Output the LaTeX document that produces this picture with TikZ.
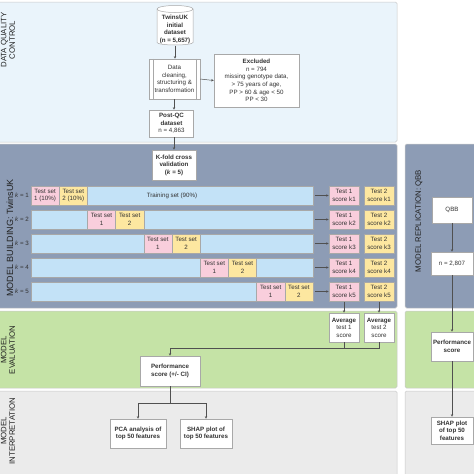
\documentclass[tikz,border=0pt]{standalone}
\usepackage{fontspec}
\setmainfont{Liberation Sans}
\usetikzlibrary{arrows.meta}
\definecolor{dqcfill}{HTML}{EAF4FB}
\definecolor{mbfill}{HTML}{8D9CB5}
\definecolor{evalfill}{HTML}{C5E3A6}
\definecolor{interpfill}{HTML}{EBEBEB}
\definecolor{barblue}{HTML}{C3E2F7}
\definecolor{pinkc}{HTML}{F9CEDC}
\definecolor{yellowc}{HTML}{FDE7A0}
\definecolor{boxline}{HTML}{A8A8A8}
\definecolor{lineclr}{HTML}{505050}
\definecolor{labelclr}{HTML}{333333}
\definecolor{panellab}{HTML}{222222}
\definecolor{panelline}{HTML}{C8C8C8}
\newcommand\boxfont{\fontsize{6.2}{7.6}\selectfont}
\newcommand\labfont{\fontsize{7.8}{8.4}\selectfont}
\tikzset{
  box/.style={draw=boxline, fill=white, line width=0.5pt, inner sep=0pt, align=center, font=\boxfont, text=labelclr},
  pinkbox/.style={box, fill=pinkc},
  yellowbox/.style={box, fill=yellowc},
  arr/.style={draw=lineclr, line width=0.5pt, -{Stealth[length=2.6pt,width=2.4pt]}},
  ln/.style={draw=lineclr, line width=0.5pt},
  panel/.style={draw=panelline, line width=0.5pt, rounded corners=1.5pt},
  bar/.style={draw=boxline, fill=barblue, line width=0.5pt, inner sep=0pt, minimum height=19pt, minimum width=282pt, align=center, font=\boxfont, text=labelclr},
  seg/.style={minimum width=28.2pt, minimum height=19pt},
  plabel/.style={rotate=90, font=\labfont, text=panellab, align=center, inner sep=0pt},
  klabel/.style={font=\boxfont, text=labelclr, inner sep=0pt}
}
\begin{document}
\begin{tikzpicture}[x=1pt,y=-1pt]
\useasboundingbox (0,0) rectangle (474,474);
% panels
\path[panel, fill=dqcfill] (-2,2) rectangle (397,142);
\path[panel, fill=mbfill] (-2,144) rectangle (397,308);
\path[panel, fill=mbfill] (405,144) rectangle (480,308);
\path[panel, fill=evalfill] (-2,311) rectangle (397,388);
\path[panel, fill=evalfill] (405,311) rectangle (480,388);
\path[panel, fill=interpfill] (-2,391) rectangle (397,478);
\path[panel, fill=interpfill] (405,391) rectangle (480,478);
% panel labels
\node[plabel] (lbdqc) at (8,40) {DATA QUALITY\\CONTROL};
\node[plabel, font=\fontsize{9}{10}\selectfont] (lbmb) at (10,238) {MODEL BUILDING: TwinsUK};
\node[plabel] (lbrep) at (419,221) {MODEL REPLICATION: QBB};
\node[plabel] (lbev) at (8,350) {MODEL\\EVALUATION};
\node[plabel] (lbin) at (8,431) {MODEL\\INTERPRETATION};
% TwinsUK cylinder
\draw[draw=boxline, fill=white, line width=0.5pt] (157,9) -- (157,42.5)
  arc[start angle=180, end angle=0, x radius=18, y radius=2.5] -- (193,9)
  arc[start angle=0, end angle=-180, x radius=18, y radius=3.5] -- cycle;
\draw[draw=boxline, line width=0.5pt] (157,9) arc[start angle=180, end angle=0, x radius=18, y radius=3.5];
\node[inner sep=0pt, align=center, font=\boxfont\bfseries, text=labelclr] (twins) at (175,29.5) {TwinsUK\\initial\\dataset\\(n = 5,657)};
\coordinate (twinsbot) at (175,45.5);
% data quality nodes
\node[box, minimum width=51pt, minimum height=40pt] (clean) at (174.5,79) {Data\\cleaning,\\structuring \&\\transformation};
\draw[draw=boxline, line width=0.5pt] ([xshift=4pt]clean.north west) -- ([xshift=4pt]clean.south west);
\draw[draw=boxline, line width=0.5pt] ([xshift=-4pt]clean.north east) -- ([xshift=-4pt]clean.south east);
\node[box, minimum width=85pt, minimum height=53pt] (excl) at (256.5,80.5) {{\bfseries Excluded}\\n = 794\\missing genotype data,\\> 75 years of age,\\PP > 60 \& age < 50\\PP < 30};
\node[box, minimum width=44pt, minimum height=27pt] (postqc) at (171.5,123.5) {{\bfseries Post-QC}\\{\bfseries dataset}\\n = 4,863};
\node[box, minimum width=44pt, minimum height=30pt, font=\boxfont\bfseries] (kfold) at (174,165) {K-fold cross\\validation\\(\textit{k} = 5)};
\draw[arr] (twinsbot) -- (clean.north -| twinsbot);
\draw[arr] (clean.east) -- (excl.west);
\draw[arr] (clean.south -| 174,0) -- (postqc.north -| 174,0);
\draw[arr] (postqc.south -| 174,0) -- (kfold.north);
% bars
\foreach \i in {1,...,5}{
  \pgfmathsetmacro{\yy}{195.5+24*(\i-1)}
  \pgfmathsetmacro{\xp}{45.1+56.4*(\i-1)}
  \pgfmathsetmacro{\xq}{73.3+56.4*(\i-1)}
  \node[klabel] (k\i) at (22,\yy) {\textit{k} = \i};
  \node[bar] (bar\i) at (172,\yy) {};
  \node[pinkbox, seg] (pa\i) at (\xp,\yy) {\ifnum\i=1 Test set\\1 (10\%)\else Test set\\1\fi};
  \node[yellowbox, seg] (pb\i) at (\xq,\yy) {\ifnum\i=1 Test set\\2 (10\%)\else Test set\\2\fi};
  \node[pinkbox, minimum width=30pt, minimum height=19.5pt] (sa\i) at (344,\yy) {Test 1\\score k\i};
  \node[yellowbox, minimum width=30pt, minimum height=19.5pt] (sb\i) at (379,\yy) {Test 2\\score k\i};
  \draw[arr] ([xshift=1.5pt]bar\i.east) -- (sa\i.west);
}
\node[font=\boxfont, text=labelclr, inner sep=0pt] (train) at (172,195.5) {Training set (90\%)};
% evaluation
\node[box, minimum width=30pt, minimum height=29pt] (avga) at (344,327.5) {{\bfseries Average}\\test 1\\score};
\node[box, minimum width=30pt, minimum height=29pt] (avgb) at (379,327.5) {{\bfseries Average}\\test 2\\score};
\draw[arr] (sa5.south) -- (avga.north);
\draw[arr] (sb5.south) -- (avgb.north);
\node[box, minimum width=60pt, minimum height=30pt, font=\boxfont\bfseries] (perf) at (170,371) {Performance\\score (+/- CI)};
\coordinate (merge) at (170,348);
\draw[ln] (avgb.south) -- (avgb.south |- merge) -- (merge);
\draw[ln] (avga.south) -- (avga.south |- merge);
\draw[arr] (merge) -- (perf.north);
% interpretation
\node[box, minimum width=56pt, minimum height=29pt, font=\boxfont\bfseries] (pca) at (138,433.5) {PCA analysis of\\top 50 features};
\node[box, minimum width=52pt, minimum height=29pt, font=\boxfont\bfseries] (shap) at (206,433.5) {SHAP plot of\\top 50 features};
\coordinate (split) at (170,403);
\draw[ln] (perf.south) -- (split);
\draw[arr] (split) -| (pca.north);
\draw[arr] (split) -| (shap.north);
% replication column
\node[box, minimum width=40pt, minimum height=26pt] (qbb) at (452,210) {QBB};
\node[box, minimum width=42pt, minimum height=23pt] (nqbb) at (452,263.5) {n = 2,807};
\node[box, minimum width=42pt, minimum height=29pt, font=\boxfont\bfseries] (perfr) at (452,346.5) {Performance\\score};
\node[box, minimum width=42pt, minimum height=27pt, font=\boxfont\bfseries] (shapr) at (452,430.5) {SHAP plot\\of top 50\\features};
\draw[arr] (qbb.south) -- (nqbb.north);
\draw[arr] (nqbb.south) -- (perfr.north);
\draw[arr] (perfr.south) -- (shapr.north);
\end{tikzpicture}
\end{document}
